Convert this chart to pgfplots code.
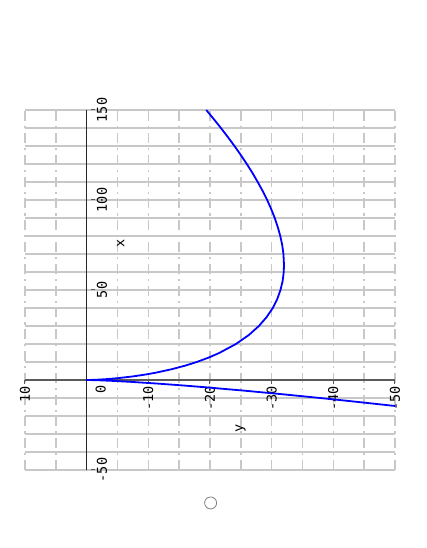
\documentclass[border=0pt]{standalone}
\usepackage{pgfplots}
\pgfplotsset{compat=1.18}
\usepackage{fontspec}
\setmainfont{DejaVu Sans Mono}
\definecolor{gridc}{RGB}{200,200,200}
\definecolor{axgray}{RGB}{90,90,90}
\begin{document}
\begin{tikzpicture}[font=\fontsize{13.5}{15}\selectfont]
\path[use as bounding box] (-25pt,-78pt) rectangle (401pt,470pt);
\begin{axis}[
  at={(0pt,0pt)}, anchor=south west,
  width=370pt, height=360pt, scale only axis,
  xmin=-50, xmax=10, x dir=reverse,
  ymin=-50, ymax=150,
  axis lines=middle,
  clip=false,
  x axis line style={-, axgray, line width=1.8pt},
  y axis line style={-, black!85, line width=1.2pt},
  xtick={-50,-40,-30,-20,-10,10},
  xticklabels={-50,-40,-30,-20,-10,10},
  minor xtick={-45,-35,-25,-15,-5,0,5},
  ytick={-50,50,100,150},
  yticklabels={-50,50,100,150},
  minor ytick={-40,-30,-20,-10,0,10,20,30,40,60,70,80,90,110,120,130,140},
  grid=both,
  major x grid style={gridc, line width=1.6pt, dash pattern=on 10pt off 4.5pt on 2.3pt off 5pt},
  minor x grid style={gridc, line width=1.6pt, dash pattern=on 10pt off 4.5pt on 2.3pt off 5pt},
  major y grid style={gridc, line width=1.6pt},
  minor y grid style={gridc, line width=1.6pt},
  tick align=outside,
  major tick length=4pt,
  minor tick length=0pt,
  tick style={axgray, line width=1pt},
  every major y tick/.append style={xshift=4pt},
  xticklabel style={rotate=90, anchor=east, inner sep=2pt},
  yticklabel style={xshift=12pt, rotate=90, anchor=north, inner sep=2pt},
  xlabel={y}, ylabel={x},
  every axis x label/.style={at={(axis cs:-24.97,-26.7)}, rotate=90, anchor=center},
  every axis y label/.style={at={(axis cs:-5.51,76.1)}, rotate=90, anchor=center},
]
\addplot[blue, line width=1.8pt, line join=round] coordinates {
(-50.05,-14.45) (-43.45,-12) (-37.85,-10) (-32,-8) (-25.81,-6) (-19.12,-4)
(-15.48,-3) (-11.52,-2) (-7,-1) (-4.28,-0.5) (-2.25,-0.2) (-0.86,-0.05)
(0,0)
(-0.76,0.05) (-1.85,0.2) (-3.28,0.5) (-5,1) (-7.52,2) (-9.48,3) (-11.12,4)
(-13.81,6) (-16,8) (-17.85,10) (-19.82,12.5) (-21.49,15) (-24.21,20)
(-26.30,25) (-27.93,30) (-29.20,35) (-30.18,40) (-30.91,45) (-31.43,50)
(-31.78,55) (-31.96,60) (-32,64) (-31.91,70) (-31.71,75) (-31.40,80)
(-30.99,85) (-30.50,90) (-29.92,95) (-29.27,100) (-28.54,105) (-27.74,110)
(-26.89,115) (-25.97,120) (-25,125) (-23.97,130) (-22.89,135) (-21.77,140)
(-20.60,145) (-19.39,150)
};
\node[rotate=90, anchor=center] at (axis cs:-2.27,-5) {0};
\draw[gray, line width=0.8pt] (axis cs:-20.1,-68.3) circle (6pt);
\end{axis}
\end{tikzpicture}
\end{document}
